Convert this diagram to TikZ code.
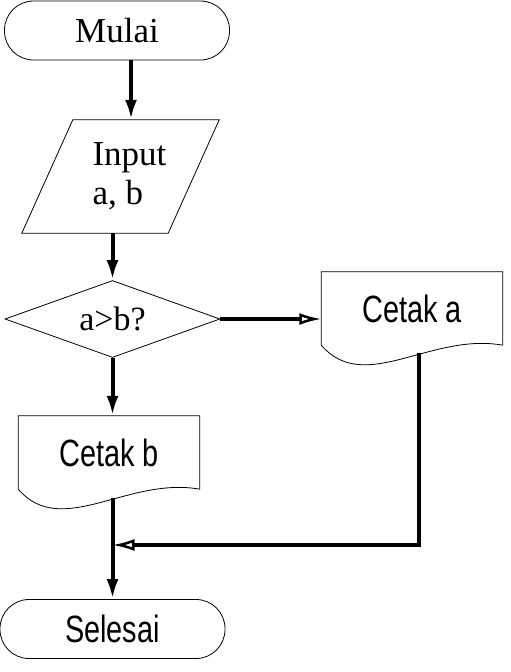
\documentclass[tikz,border=0pt]{standalone}
\usepackage{fontspec}
\setmainfont{Liberation Serif}
\newfontfamily\narrowsans[FakeStretch=0.76]{Liberation Sans}
\usetikzlibrary{shapes.geometric,arrows.meta}

\begin{document}
\begin{tikzpicture}[x=1pt,y=-1pt,
  outline/.style={draw,line width=0.8pt},
  terminal/.style={outline,rounded corners=29pt,minimum width=225pt,minimum height=59pt,inner sep=0pt},
  docbox/.style={minimum width=181pt,minimum height=73pt,inner sep=0pt,font=\narrowsans\fontsize{38}{40}\selectfont},
  flow/.style={line width=4pt,-{Latex[length=20pt,width=12pt]}},
  flowopen/.style={line width=4pt,-{Latex[open,length=22pt,width=12pt,line width=2.5pt]}}]
\useasboundingbox (0,0) rectangle (511,672);
\node[terminal,font=\fontsize{35}{38}\selectfont] (mulai) at (117,30.5) {Mulai};
\node[minimum width=197pt,minimum height=113pt,inner sep=0pt] (inp) at (120.5,176.5) {};
\node[align=left,font=\fontsize{35}{39}\selectfont] (inptext) at (129.5,176) {Input\\a, b};
\node[outline,diamond,aspect=2.8,minimum width=215pt,minimum height=77pt,inner sep=0pt,font=\fontsize{34}{36}\selectfont] (dec) at (112.5,319) {a>b?};
\node[docbox] (cta) at (412,308.5) {Cetak a};
\node[docbox] (ctb) at (109,452.5) {Cetak b};
\node[terminal,font=\narrowsans\fontsize{38}{40}\selectfont] (selesai) at (112.5,629) {Selesai};
\draw[line width=0.8pt] ([xshift=51pt]inp.north west) -- (inp.north east)
  -- ([xshift=-51pt]inp.south east) -- (inp.south west) -- cycle;
\foreach \n in {cta,ctb}
  \draw[line width=0.8pt] (\n.south east) -- (\n.north east) -- (\n.north west) -- (\n.south west)
    .. controls +(43,50) and +(-72,-13) .. (\n.south east);
\coordinate (ctaout) at ([shift={(7,8)}]cta.south);
\coordinate (ctbout) at ([yshift=-9pt]ctb.south -| selesai.north);
\coordinate (merge) at (selesai.north |- 0,545);
\draw[flow] ([xshift=14pt]mulai.south) -- ([xshift=14pt]mulai.south |- inp.north);
\draw[flow] (inp.south -| dec.north) -- (dec.north);
\draw[flowopen] (dec.east) -- (cta.west |- dec.east);
\draw[flow] (dec.south) -- (dec.south |- ctb.north);
\draw[flow] (ctbout) -- (selesai.north);
\draw[flowopen] (ctaout) |- (merge);
\end{tikzpicture}
\end{document}
